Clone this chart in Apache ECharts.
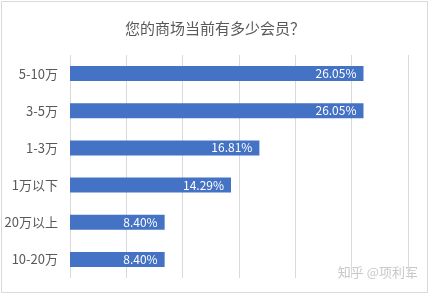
<!DOCTYPE html>
<html>
<head>
<meta charset="utf-8">
<script src="https://cdn.jsdelivr.net/npm/echarts@6/dist/echarts.min.js"></script>
<style>
  html, body { margin: 0; padding: 0; background: #fff; }
  #chart { width: 430px; height: 294px; }
</style>
</head>
<body>
<div id="chart"></div>
<script>
// 会员规模分布（从上到下）
var categories = ['5-10万', '3-5万', '1-3万', '1万以下', '20万以上', '10-20万'];
var shares = [26.05, 26.05, 16.81, 14.29, 8.40, 8.40];
var axisTicks = [0, 5, 10, 15, 20, 25, 30];

var font = '"Noto Sans CJK SC", "Microsoft YaHei", sans-serif';
var chart = echarts.init(document.getElementById('chart'));

var option = {
  backgroundColor: '#fff',
  animation: false,
  title: {
    text: '您的商场当前有多少会员？',
    left: 'center',
    top: 16,
    textStyle: { fontFamily: font, fontSize: 15, fontWeight: 'normal', color: '#595959' }
  },
  grid: { left: 70, right: 22, top: 55, bottom: 16 },
  xAxis: {
    type: 'value',
    min: axisTicks[0],
    max: axisTicks[axisTicks.length - 1],
    interval: 5,
    axisLabel: { show: false },
    axisLine: { show: false },
    axisTick: { show: false },
    splitLine: { show: true, lineStyle: { color: '#d9d9d9', width: 1 } }
  },
  yAxis: {
    type: 'category',
    inverse: true,
    data: categories,
    axisLine: { show: false },
    axisTick: { show: false },
    axisLabel: { margin: 12, fontFamily: font, fontSize: 13, color: '#595959' }
  },
  series: [{
    type: 'bar',
    data: shares,
    barWidth: 15,
    itemStyle: { color: '#4472C4' },
    label: {
      show: true,
      position: 'insideRight',
      distance: 7,
      fontFamily: font,
      fontSize: 12,
      color: '#fff',
      formatter: function (p) { return p.value.toFixed(2) + '%'; }
    }
  }],
  graphic: [
    {
      type: 'rect',
      shape: { x: 1.5, y: 1.5, width: 426, height: 291 },
      style: { fill: 'none', stroke: '#d9d9d9', lineWidth: 1 },
      silent: true
    },
    {
      type: 'text',
      right: 12,
      top: 266,
      style: { text: '知乎 @项利军', font: '13px ' + font, fill: '#c8c8c8' },
      silent: true
    }
  ]
};

chart.setOption(option);
</script>
</body>
</html>
